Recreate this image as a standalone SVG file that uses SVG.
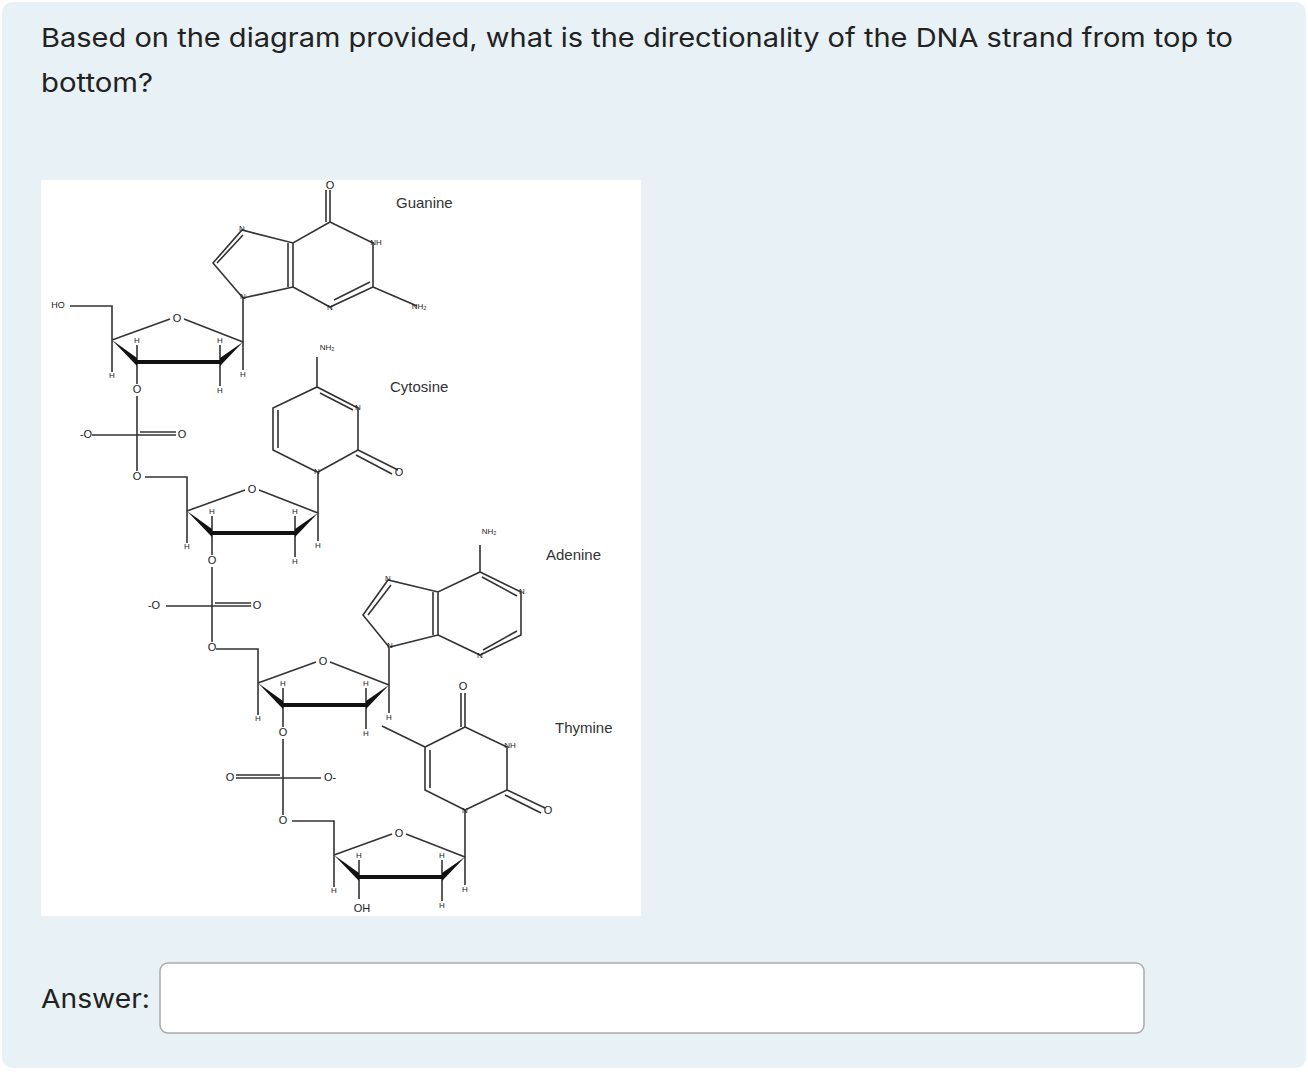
<svg xmlns="http://www.w3.org/2000/svg" width="1308" height="1084" viewBox="0 0 1308 1084">
<style>
.q{font-family:"Inter","Liberation Sans",sans-serif;font-size:26px;fill:#222}
.b{stroke:#333;stroke-width:1.6;fill:none}
.a{font-family:"Liberation Sans",sans-serif;font-size:8px;fill:#222;text-anchor:middle;dominant-baseline:middle}
.o{font-family:"Liberation Sans",sans-serif;font-size:11px;fill:#222;text-anchor:middle;dominant-baseline:middle}
.l{font-family:"Liberation Sans",sans-serif;font-size:15px;fill:#333}
</style>
<defs>
<g id="sugar">
<path class="b" d="M112,340 L170,319 M184,319 L243,342 M112,340 V372 M137,362 V345 M137,362 V384 M220,362 V345 M220,362 V386 M243,342 V370 M112,340 V306 H70"/>
<polygon points="112,340 137,358 137,366" fill="#111"/>
<polygon points="243,342 220,358 220,366" fill="#111"/>
<line x1="137" y1="362" x2="220" y2="362" stroke="#111" stroke-width="4"/>
<text class="o" x="177" y="319">O</text>
<text class="a" x="137" y="341">H</text><text class="a" x="220" y="341">H</text>
<text class="a" x="112" y="376">H</text><text class="a" x="220" y="391">H</text><text class="a" x="243" y="375">H</text>
</g>
</defs>
<rect x="2" y="2" width="1304" height="1066" rx="10" fill="#e8f1f5"/>
<text class="q" x="41" y="47" textLength="1192" lengthAdjust="spacingAndGlyphs">Based on the diagram provided, what is the directionality of the DNA strand from top to</text>
<text class="q" x="41" y="92" textLength="112" lengthAdjust="spacingAndGlyphs">bottom?</text>
<rect x="41" y="180" width="600" height="736" fill="#fff"/>
<g id="sugars">
<use href="#sugar"/>
<use href="#sugar" transform="translate(75,171)"/>
<use href="#sugar" transform="translate(146,343)"/>
<use href="#sugar" transform="translate(222,515)"/>
<text class="a" x="58" y="306" style="font-size:9px">HO</text>
<text class="o" x="137" y="390">O</text>
<text class="o" x="212" y="561">O</text>
<text class="o" x="283" y="733">O</text>
<text class="o" x="362" y="909">OH</text>
</g>
<g id="phosphates">
<path class="b" d="M137,396 V471 M92,435 H176 M140,432 H176"/>
<text class="o" x="86" y="435">-O</text><text class="o" x="182" y="435">O</text><text class="o" x="137" y="477">O</text>
<path class="b" d="M212,567 V642 M166,606 H251 M215,603 H251"/>
<text class="o" x="154" y="606">-O</text><text class="o" x="257" y="606">O</text><text class="o" x="212" y="648">O</text>
<path class="b" d="M283,739 V815 M236,778 H321 M236,775 H280"/>
<text class="o" x="230" y="778">O</text><text class="o" x="330" y="778">O-</text><text class="o" x="283" y="821">O</text>
</g>
<g id="guanine">
<path class="b" d="M243,342 V298 L213,263 L242,230 L293,243 L330,222 V190 M326,222 V190 M330,222 L373,243 V287 L330,307 L293,287 V243 M288,287 V243 M293,287 L243,298 M373,287 L417,306 M370,282 L334,300 M217,263 L243,235"/>
<text class="a" x="242" y="229">N</text><text class="a" x="243" y="297">N</text><text class="a" x="330" y="308">N</text><text class="a" x="376" y="243">NH</text><text class="a" x="419" y="307">NH₂</text>
<text class="o" x="330" y="186">O</text>
<text class="l" x="396" y="208">Guanine</text>
</g>
<g id="cytosine">
<path class="b" d="M318,513 V472 L358,450 L358,408 L317,387 L273,408 V450 L317,472 M358,450 L398,470 M356,455 L392,474 M317,387 V357 M278,410 V448 M320,393 L353,410"/>
<text class="a" x="317" y="472">N</text><text class="a" x="358" y="408">N</text><text class="a" x="327" y="348">NH₂</text><text class="o" x="399" y="473">O</text>
<text class="l" x="390" y="392">Cytosine</text>
</g>
<g id="adenine">
<path class="b" d="M389,685 V647 L363,615 L388,580 L438,592 L480,572 L521,592 V635 L480,655 L438,635 V592 M433,635 V592 M438,635 L390,647 M480,572 V545 M368,615 L391,585 M482,577 L517,596 M517,631 L483,650"/>
<text class="a" x="388" y="579">N</text><text class="a" x="390" y="646">N</text><text class="a" x="480" y="656">N</text><text class="a" x="522" y="592">N</text><text class="a" x="489" y="532">NH₂</text>
<text class="l" x="546" y="560">Adenine</text>
</g>
<g id="thymine">
<path class="b" d="M465,857 V810 L507,790 L507,747 L465,727 V693 M461,727 V693 M465,727 L425,747 V790 L465,810 M430,750 V788 M425,747 L382,726 M507,790 L545,808 M505,795 L541,813"/>
<text class="a" x="465" y="811">N</text><text class="a" x="510" y="746">NH</text><text class="o" x="463" y="687">O</text><text class="o" x="548" y="811">O</text>
<text class="l" x="555" y="733">Thymine</text>
</g>
<text class="q" x="41" y="1008" textLength="109" lengthAdjust="spacingAndGlyphs">Answer:</text>
<rect x="160" y="963" width="984" height="70" rx="8" fill="#fff" stroke="#aaa" stroke-width="1.5"/>
</svg>
